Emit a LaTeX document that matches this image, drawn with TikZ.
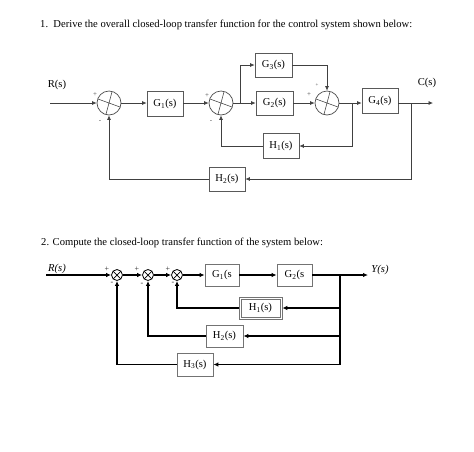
\documentclass[tikz,border=0pt]{standalone}
\usepackage{fontspec}
\setmainfont{Liberation Serif}
\usetikzlibrary{arrows.meta}
\begin{document}
\begin{tikzpicture}[x=1pt,y=-1pt,
  font=\fontsize{10.6}{12}\selectfont,
  blk/.style={draw=black!65, line width=0.7pt, minimum width=36pt, minimum height=25pt, inner sep=0pt},
  blkb/.style={draw=black!55, line width=0.8pt, minimum width=35pt, minimum height=22pt, inner sep=0pt},
  sumA/.style={circle, draw=black!70, line width=0.7pt, minimum size=24pt, inner sep=0pt,
    path picture={\draw[black!70,line width=0.6pt] (path picture bounding box.center) ++(160:14pt) -- ++(-20:28pt)
      (path picture bounding box.center) ++(75:14pt) -- ++(255:28pt);}},
  sumB/.style={circle, draw=black, line width=0.8pt, minimum size=11pt, inner sep=0pt,
    path picture={\draw[black,line width=0.7pt] (path picture bounding box.center) ++(45:7pt) -- ++(225:14pt)
      (path picture bounding box.center) ++(135:7pt) -- ++(-45:14pt);}},
  ln/.style={draw=black!75, line width=0.7pt},
  arr/.style={ln, -{Latex[length=4.5pt,width=4pt]}},
  lnb/.style={draw=black, line width=1.2pt},
  arrb/.style={lnb, -{Latex[length=5pt,width=4.5pt]}},
  sgn/.style={font=\fontsize{7}{8}\selectfont, text=black!70, inner sep=0pt},
  sgnb/.style={font=\fontsize{8}{9}\selectfont, text=black!85, inner sep=0pt},
  ttl/.style={anchor=west, inner sep=0pt}
]
\useasboundingbox (0,0) rectangle (474,451);

% ---------- Problem 1 ----------
\node[ttl] (t1) at (40,25) {1.\ \ Derive the overall closed-loop transfer function for the control system shown below:};

\coordinate (rin) at (50,103);
\node (rl) at (57,85) {R(s)};
\node[sumA] (s1) at (109,103) {};
\node[blk] (g1) at (165,104) {G\textsubscript{1}(s)};
\node[sumA] (s2) at (221,103) {};
\coordinate (b1) at (240,103);
\node[blk, minimum width=37pt, minimum height=24pt] (g3) at (273.5,65) {G\textsubscript{3}(s)};
\node[blk, minimum width=37pt, minimum height=24pt] (g2) at (274.5,103) {G\textsubscript{2}(s)};
\node[sumA] (s3) at (327,103) {};
\coordinate (b2) at (352,103);
\node[blk] (g4) at (380,101) {G\textsubscript{4}(s)};
\coordinate (b3) at (411,103);
\coordinate (cout) at (433,103);
\node (cl) at (427,83) {C(s)};
\node[blk] (h1) at (281,146) {H\textsubscript{1}(s)};
\node[blk, minimum height=24pt] (h2) at (227,179) {H\textsubscript{2}(s)};

\node[sgn] (p1) at (95,95) {+};
\node[sgn] (m1) at (100,122) {-};
\node[sgn] (p2) at (207,96) {+};
\node[sgn] (m2) at (211,122) {-};
\node[sgn] (p3) at (309,95) {+};
\node[sgn, font=\fontsize{5}{6}\selectfont] (p4) at (317,85) {+};

\draw[arr] (rin) -- (s1.west);
\draw[arr] (s1.east) -- (g1.west |- s1.east);
\draw[arr] (g1.east |- s2.west) -- (s2.west);
\draw[ln] (s2.east) -- (b1);
\draw[arr] (b1) -- (g2.west);
\draw[arr] (b1) |- (g3.west);
\draw[arr] (g3.east) -| (s3.north);
\draw[arr] (g2.east) -- (s3.west);
\draw[arr] (s3.east) -- (g4.west |- s3.east);
\draw[arr] (b2) |- (h1.east);
\draw[arr] (h1.west) -| (s2.south);
\draw[arr] (g4.east |- b3) -- (cout);
\draw[arr] (b3) |- (h2.east);
\draw[arr] (h2.west) -| (s1.south);

% ---------- Problem 2 ----------
\node[ttl] (t2) at (41,243) {2. Compute the closed-loop transfer function of the system below:};

\coordinate (rin2) at (46,275);
\node[inner sep=0pt] (rl2) at (57,269) {\textit{R(s)}};
\node[sumB] (sa) at (117,275) {};
\node[sumB] (sb) at (148,275) {};
\node[sumB] (sc) at (177,275) {};
\node[blkb, minimum width=34pt] (gb1) at (222,275) {G\textsubscript{1}(s};
\node[blkb] (gb2) at (294.5,275) {G\textsubscript{2}(s};
\coordinate (b4) at (340,275);
\coordinate (yout) at (368,275);
\node[inner sep=0pt] (yl) at (380,270) {\textit{Y(s)}};
\node[draw=black!55, line width=0.7pt, minimum width=43pt, minimum height=22pt, inner sep=0pt] (hb1) at (260.5,308) {H\textsubscript{1}(s)};
\draw[black!55, line width=0.7pt] ([shift={(2.2pt,-2.2pt)}]hb1.north west) rectangle ([shift={(-2.2pt,2.2pt)}]hb1.south east);
\node[blkb, minimum width=37pt] (hb2) at (224.5,336) {H\textsubscript{2}(s)};
\node[blkb, minimum width=36pt, minimum height=23pt] (hb3) at (195,364.5) {H\textsubscript{3}(s)};
\coordinate (c1) at (340,308);
\coordinate (c2) at (340,336);
\coordinate (c3) at (340,364.5);

\node[sgnb] (pa) at (107,269) {+};
\node[sgnb] (ma) at (112,283) {-};
\node[sgnb] (pb) at (137,269) {+};
\node[sgnb] (mb) at (142,284) {-};
\node[sgnb] (pc) at (168,269) {+};
\node[sgnb] (mc) at (173,283) {-};

\draw[arrb] (rin2) -- (sa.west);
\draw[arrb] (sa.east) -- (sb.west);
\draw[arrb] (sb.east) -- (sc.west);
\draw[arrb] (sc.east) -- (gb1.west);
\draw[arrb] (gb1.east) -- (gb2.west);
\draw[arrb] (gb2.east) -- (yout);
\draw[lnb] (b4) -- (c3);
\draw[arrb] (c1) -- (hb1.east);
\draw[arrb] (c2) -- (hb2.east);
\draw[arrb] (c3) -- (hb3.east);
\draw[arrb] (hb1.west) -| (sc.south);
\draw[arrb] (hb2.west) -| (sb.south);
\draw[arrb] (hb3.west) -| (sa.south);
\end{tikzpicture}
\end{document}
